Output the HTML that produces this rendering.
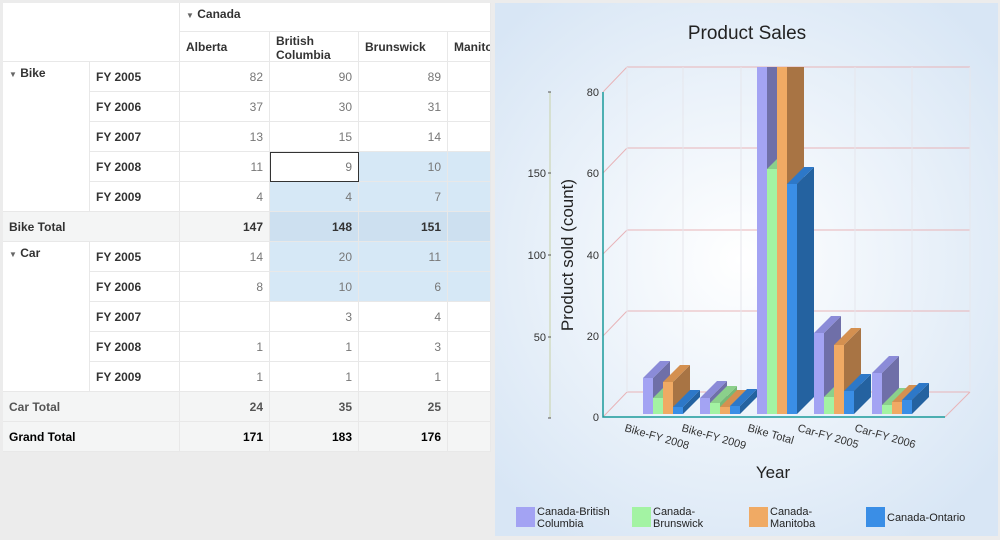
<!DOCTYPE html>
<html><head><meta charset="utf-8"><style>
body{margin:0;width:1000px;height:540px;background:#ececec;position:relative;overflow:hidden;font-family:"Liberation Sans",sans-serif}
.c{position:absolute;box-sizing:border-box;font-size:12px;color:#333;border-right:1px solid #e8e8e8;border-bottom:1px solid #e8e8e8;line-height:30px;padding:0 6px;white-space:nowrap;overflow:hidden}
.b{font-weight:bold}
.n{text-align:right;color:#777}
.t{background:#f4f5f5}
.h{background:#d6e8f6}
.hd{background:#cde0f0}
</style></head><body>
<div style="position:absolute;left:3px;top:3px;width:488px;height:449px;background:#fff"></div>
<div class="c b" style="left:180px;top:3px;width:311px;height:29px;line-height:22px"><span style="font-size:8px;color:#666">▼</span> Canada</div>
<div class="c" style="left:3px;top:3px;width:177px;height:59px"></div>
<div class="c b" style="left:180px;top:32px;width:90px;height:30px">Alberta</div>
<div class="c b" style="left:270px;top:32px;width:89px;height:30px;line-height:14px;padding-top:2px">British<br>Columbia</div>
<div class="c b" style="left:359px;top:32px;width:89px;height:30px">Brunswick</div>
<div class="c b" style="left:448px;top:32px;width:43px;height:30px">Manitoba</div>
<div class="c b" style="left:3px;top:62px;width:87px;height:150px;line-height:22px"><span style="font-size:8px;color:#666">▼</span> Bike</div>
<div class="c b" style="left:3px;top:242px;width:87px;height:150px;line-height:22px"><span style="font-size:8px;color:#666">▼</span> Car</div>
<!-- bike rows -->
<div class="c b" style="left:90px;top:62px;width:90px;height:30px">FY 2005</div><div class="c n" style="left:180px;top:62px;width:90px;height:30px">82</div><div class="c n" style="left:270px;top:62px;width:89px;height:30px">90</div><div class="c n" style="left:359px;top:62px;width:89px;height:30px">89</div><div class="c" style="left:448px;top:62px;width:43px;height:30px"></div>
<div class="c b" style="left:90px;top:92px;width:90px;height:30px">FY 2006</div><div class="c n" style="left:180px;top:92px;width:90px;height:30px">37</div><div class="c n" style="left:270px;top:92px;width:89px;height:30px">30</div><div class="c n" style="left:359px;top:92px;width:89px;height:30px">31</div><div class="c" style="left:448px;top:92px;width:43px;height:30px"></div>
<div class="c b" style="left:90px;top:122px;width:90px;height:30px">FY 2007</div><div class="c n" style="left:180px;top:122px;width:90px;height:30px">13</div><div class="c n" style="left:270px;top:122px;width:89px;height:30px">15</div><div class="c n" style="left:359px;top:122px;width:89px;height:30px">14</div><div class="c" style="left:448px;top:122px;width:43px;height:30px"></div>
<div class="c b" style="left:90px;top:152px;width:90px;height:30px">FY 2008</div><div class="c n" style="left:180px;top:152px;width:90px;height:30px">11</div><div class="c n" style="left:270px;top:152px;width:89px;height:30px;border:1px solid #333;line-height:28px">9</div><div class="c n h" style="left:359px;top:152px;width:89px;height:30px">10</div><div class="c h" style="left:448px;top:152px;width:43px;height:30px"></div>
<div class="c b" style="left:90px;top:182px;width:90px;height:30px">FY 2009</div><div class="c n" style="left:180px;top:182px;width:90px;height:30px">4</div><div class="c n h" style="left:270px;top:182px;width:89px;height:30px">4</div><div class="c n h" style="left:359px;top:182px;width:89px;height:30px">7</div><div class="c h" style="left:448px;top:182px;width:43px;height:30px"></div>
<div class="c b t" style="left:3px;top:212px;width:177px;height:30px">Bike Total</div><div class="c n b t" style="left:180px;top:212px;width:90px;height:30px;color:#333">147</div><div class="c n b hd" style="left:270px;top:212px;width:89px;height:30px;color:#333">148</div><div class="c n b hd" style="left:359px;top:212px;width:89px;height:30px;color:#333">151</div><div class="c hd" style="left:448px;top:212px;width:43px;height:30px"></div>
<!-- car rows -->
<div class="c b" style="left:90px;top:242px;width:90px;height:30px">FY 2005</div><div class="c n" style="left:180px;top:242px;width:90px;height:30px">14</div><div class="c n h" style="left:270px;top:242px;width:89px;height:30px">20</div><div class="c n h" style="left:359px;top:242px;width:89px;height:30px">11</div><div class="c h" style="left:448px;top:242px;width:43px;height:30px"></div>
<div class="c b" style="left:90px;top:272px;width:90px;height:30px">FY 2006</div><div class="c n" style="left:180px;top:272px;width:90px;height:30px">8</div><div class="c n h" style="left:270px;top:272px;width:89px;height:30px">10</div><div class="c n h" style="left:359px;top:272px;width:89px;height:30px">6</div><div class="c h" style="left:448px;top:272px;width:43px;height:30px"></div>
<div class="c b" style="left:90px;top:302px;width:90px;height:30px">FY 2007</div><div class="c n" style="left:180px;top:302px;width:90px;height:30px"></div><div class="c n" style="left:270px;top:302px;width:89px;height:30px">3</div><div class="c n" style="left:359px;top:302px;width:89px;height:30px">4</div><div class="c" style="left:448px;top:302px;width:43px;height:30px"></div>
<div class="c b" style="left:90px;top:332px;width:90px;height:30px">FY 2008</div><div class="c n" style="left:180px;top:332px;width:90px;height:30px">1</div><div class="c n" style="left:270px;top:332px;width:89px;height:30px">1</div><div class="c n" style="left:359px;top:332px;width:89px;height:30px">3</div><div class="c" style="left:448px;top:332px;width:43px;height:30px"></div>
<div class="c b" style="left:90px;top:362px;width:90px;height:30px">FY 2009</div><div class="c n" style="left:180px;top:362px;width:90px;height:30px">1</div><div class="c n" style="left:270px;top:362px;width:89px;height:30px">1</div><div class="c n" style="left:359px;top:362px;width:89px;height:30px">1</div><div class="c" style="left:448px;top:362px;width:43px;height:30px"></div>
<div class="c b t" style="left:3px;top:392px;width:177px;height:30px;color:#555">Car Total</div><div class="c n b t" style="left:180px;top:392px;width:90px;height:30px;color:#555">24</div><div class="c n b t" style="left:270px;top:392px;width:89px;height:30px;color:#555">35</div><div class="c n b t" style="left:359px;top:392px;width:89px;height:30px;color:#555">25</div><div class="c t" style="left:448px;top:392px;width:43px;height:30px"></div>
<div class="c b t" style="left:3px;top:422px;width:177px;height:30px;color:#000">Grand Total</div><div class="c n b t" style="left:180px;top:422px;width:90px;height:30px;color:#000">171</div><div class="c n b t" style="left:270px;top:422px;width:89px;height:30px;color:#000">183</div><div class="c n b t" style="left:359px;top:422px;width:89px;height:30px;color:#000">176</div><div class="c t" style="left:448px;top:422px;width:43px;height:30px"></div>

<svg style="position:absolute;left:0;top:0" width="1000" height="540" font-family="Liberation Sans, sans-serif">
<defs>
<radialGradient id="bg" cx="740" cy="260" r="330" gradientUnits="userSpaceOnUse"><stop offset="0" stop-color="#ffffff"/><stop offset="1" stop-color="#d8e6f5"/></radialGradient>
<clipPath id="cp"><rect x="600" y="67" width="400" height="400"/></clipPath>
</defs>
<rect x="495" y="3" width="503" height="533" fill="url(#bg)"/>
<text x="747" y="39" font-size="19" text-anchor="middle" fill="#222">Product Sales</text>
<!-- grid -->
<g stroke="#e8b4b8" stroke-width="1" fill="none">
<path d="M627 67H970M627 148H970M627 230H970M627 311H970M627 392H970"/>
<path d="M603 92L627 67M603 173L627 148M603 254L627 230M603 336L627 311M603 417L627 392M945 417L970 392"/>
</g>
<g stroke="#e6e6ec" stroke-width="1"><path d="M627 67V392M683 67V392M741 67V392M798 67V392M855 67V392M912 67V392M970 67V392"/></g>
<path d="M603 92V417H945" stroke="#1a9a9a" stroke-width="1.5" fill="none"/>
<g font-size="11" fill="#333" text-anchor="end"><text x="599" y="96">80</text><text x="599" y="177">60</text><text x="599" y="259">40</text><text x="599" y="340">20</text><text x="599" y="421">0</text></g>
<path d="M550 92V418" stroke="#c8d2a8" stroke-width="1"/>
<g stroke="#555"><path d="M548 92h3M548 173h3M548 255h3M548 337h3M548 418h3"/></g>
<g font-size="11" fill="#333" text-anchor="end"><text x="546" y="177">150</text><text x="546" y="259">100</text><text x="546" y="341">50</text></g>
<text transform="translate(573,255) rotate(-90)" font-size="17" text-anchor="middle" fill="#222">Product sold (count)</text>
<g clip-path="url(#cp)">
<!-- macro: front rect x,y w10; side; top -->
<!-- cat1 -->
<g><rect x="643" y="378" width="10" height="36" fill="#a3a3f3"/><path d="M653 378l17-17v36l-17 17z" fill="#6f6fa8"/><path d="M643 378l17-17h10l-17 17z" fill="#8b8bd8"/></g>
<g><rect x="653" y="398" width="10" height="16" fill="#a3f3a3"/><path d="M663 398l17-17v16l-17 17z" fill="#76b876"/><path d="M653 398l17-17h10l-17 17z" fill="#8bd08b"/></g>
<g><rect x="663" y="382" width="10" height="32" fill="#f0aa64"/><path d="M673 382l17-17v32l-17 17z" fill="#a87444"/><path d="M663 382l17-17h10l-17 17z" fill="#d49050"/></g>
<g><rect x="673" y="407" width="10" height="7" fill="#3a8ee6"/><path d="M683 407l17-17v7l-17 17z" fill="#2462a0"/><path d="M673 407l17-17h10l-17 17z" fill="#2d78c8"/></g>
<!-- cat2 -->
<g><rect x="700" y="398" width="10" height="16" fill="#a3a3f3"/><path d="M710 398l17-17v16l-17 17z" fill="#6f6fa8"/><path d="M700 398l17-17h10l-17 17z" fill="#8b8bd8"/></g>
<g><rect x="710" y="403" width="10" height="11" fill="#a3f3a3"/><path d="M720 403l17-17v11l-17 17z" fill="#76b876"/><path d="M710 403l17-17h10l-17 17z" fill="#8bd08b"/></g>
<g><rect x="720" y="407" width="10" height="7" fill="#f0aa64"/><path d="M730 407l17-17v7l-17 17z" fill="#a87444"/><path d="M720 407l17-17h10l-17 17z" fill="#d49050"/></g>
<g><rect x="730" y="406" width="10" height="8" fill="#3a8ee6"/><path d="M740 406l17-17v8l-17 17z" fill="#2462a0"/><path d="M730 406l17-17h10l-17 17z" fill="#2d78c8"/></g>
<!-- cat3 -->
<g><rect x="757" y="40" width="10" height="374" fill="#a3a3f3"/><path d="M767 40l17-17v374l-17 17z" fill="#6f6fa8"/></g>
<g><rect x="767" y="169" width="10" height="245" fill="#a3f3a3"/><path d="M777 169l17-17v245l-17 17z" fill="#76b876"/><path d="M767 169l17-17h10l-17 17z" fill="#8bd08b"/></g>
<g><rect x="777" y="40" width="10" height="374" fill="#f0aa64"/><path d="M787 40l17-17v374l-17 17z" fill="#a87444"/></g>
<g><rect x="787" y="184" width="10" height="230" fill="#3a8ee6"/><path d="M797 184l17-17v230l-17 17z" fill="#2462a0"/><path d="M787 184l17-17h10l-17 17z" fill="#2d78c8"/></g>
<!-- cat4 -->
<g><rect x="814" y="333" width="10" height="81" fill="#a3a3f3"/><path d="M824 333l17-17v81l-17 17z" fill="#6f6fa8"/><path d="M814 333l17-17h10l-17 17z" fill="#8b8bd8"/></g>
<g><rect x="824" y="397" width="10" height="17" fill="#a3f3a3"/><path d="M834 397l17-17v17l-17 17z" fill="#76b876"/><path d="M824 397l17-17h10l-17 17z" fill="#8bd08b"/></g>
<g><rect x="834" y="345" width="10" height="69" fill="#f0aa64"/><path d="M844 345l17-17v69l-17 17z" fill="#a87444"/><path d="M834 345l17-17h10l-17 17z" fill="#d49050"/></g>
<g><rect x="844" y="391" width="10" height="23" fill="#3a8ee6"/><path d="M854 391l17-17v23l-17 17z" fill="#2462a0"/><path d="M844 391l17-17h10l-17 17z" fill="#2d78c8"/></g>
<!-- cat5 -->
<g><rect x="872" y="373" width="10" height="41" fill="#a3a3f3"/><path d="M882 373l17-17v41l-17 17z" fill="#6f6fa8"/><path d="M872 373l17-17h10l-17 17z" fill="#8b8bd8"/></g>
<g><rect x="882" y="405" width="10" height="9" fill="#a3f3a3"/><path d="M892 405l17-17v9l-17 17z" fill="#76b876"/><path d="M882 405l17-17h10l-17 17z" fill="#8bd08b"/></g>
<g><rect x="892" y="402" width="10" height="12" fill="#f0aa64"/><path d="M902 402l17-17v12l-17 17z" fill="#a87444"/><path d="M892 402l17-17h10l-17 17z" fill="#d49050"/></g>
<g><rect x="902" y="400" width="10" height="14" fill="#3a8ee6"/><path d="M912 400l17-17v14l-17 17z" fill="#2462a0"/><path d="M902 400l17-17h10l-17 17z" fill="#2d78c8"/></g>
</g>
<g font-size="11" fill="#333">
<text transform="translate(624,431) rotate(16)">Bike-FY 2008</text>
<text transform="translate(681,431) rotate(16)">Bike-FY 2009</text>
<text transform="translate(747,431) rotate(16)">Bike Total</text>
<text transform="translate(797,431) rotate(16)">Car-FY 2005</text>
<text transform="translate(854,431) rotate(16)">Car-FY 2006</text>
</g>
<text x="773" y="478" font-size="17" text-anchor="middle" fill="#222">Year</text>
<g font-size="11" fill="#222">
<rect x="516" y="507" width="19" height="20" fill="#a3a3f3"/><text x="537" y="515">Canada-British</text><text x="537" y="527">Columbia</text>
<rect x="632" y="507" width="19" height="20" fill="#a3f3a3"/><text x="653" y="515">Canada-</text><text x="653" y="527">Brunswick</text>
<rect x="749" y="507" width="19" height="20" fill="#f0aa64"/><text x="770" y="515">Canada-</text><text x="770" y="527">Manitoba</text>
<rect x="866" y="507" width="19" height="20" fill="#3a8ee6"/><text x="887" y="521">Canada-Ontario</text>
</g>
</svg>
</body></html>
